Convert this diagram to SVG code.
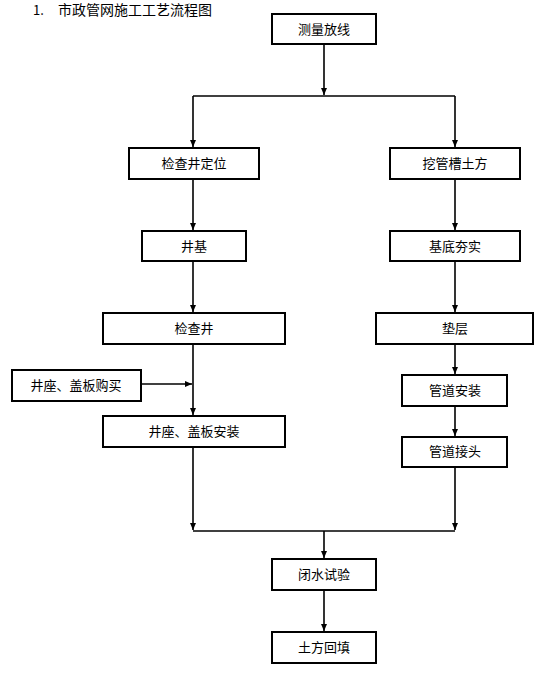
<svg xmlns="http://www.w3.org/2000/svg" width="535" height="674" viewBox="0 0 535 674">
<defs>
<marker id="ah" markerWidth="8" markerHeight="8" refX="7" refY="4" orient="auto" markerUnits="userSpaceOnUse">
<path d="M0,1 L7,4 L0,7 Z" fill="#000"/>
</marker>
<style>
.box{fill:#fff;stroke:#000;stroke-width:2}
.t{font-family:"Noto Sans CJK SC","Liberation Sans",sans-serif;font-size:13px;text-anchor:middle;fill:#000}
.ln{fill:none;stroke:#000;stroke-width:1.6}
.ar{fill:none;stroke:#000;stroke-width:1.6;marker-end:url(#ah)}
</style>
</defs>
<rect width="535" height="674" fill="#fff"/>
<text x="33" y="15" style="font-family:'Noto Sans CJK SC','Liberation Sans',sans-serif;font-size:13px">1.</text>
<text x="58" y="15" style="font-family:'Noto Sans CJK SC','Liberation Sans',sans-serif;font-size:14px">市政管网施工工艺流程图</text>
<g id="connectors">
<path class="ar" d="M324,44 V95"/>
<path class="ln" d="M193,96 H455"/>
<path class="ar" d="M193,96 V147"/>
<path class="ar" d="M455,96 V147"/>
<path class="ar" d="M193,179 V230"/>
<path class="ar" d="M455,179 V230"/>
<path class="ar" d="M193,261 V312"/>
<path class="ar" d="M455,261 V312"/>
<path class="ln" d="M193,344 V384"/>
<path class="ar" d="M193,384 V415"/>
<path class="ar" d="M141,384 H192"/>
<path class="ar" d="M455,344 V374"/>
<path class="ar" d="M455,406 V436"/>
<path class="ar" d="M193,447 V530"/>
<path class="ar" d="M455,467 V530"/>
<path class="ln" d="M193,531 H455"/>
<path class="ar" d="M324,531 V558"/>
<path class="ar" d="M324,590 V631"/>
</g>
<g id="n1"><rect class="box" x="272" y="14" width="104" height="30"/><text class="t" x="324" y="34">测量放线</text></g>
<g id="n2"><rect class="box" x="129" y="148" width="130" height="31"/><text class="t" x="194" y="168">检查井定位</text></g>
<g id="n3"><rect class="box" x="390" y="148" width="130" height="31"/><text class="t" x="455" y="168">挖管槽土方</text></g>
<g id="n4"><rect class="box" x="142" y="231" width="104" height="30"/><text class="t" x="194" y="251">井基</text></g>
<g id="n5"><rect class="box" x="390" y="231" width="130" height="30"/><text class="t" x="455" y="251">基底夯实</text></g>
<g id="n6"><rect class="box" x="103" y="313" width="182" height="31"/><text class="t" x="194" y="333">检查井</text></g>
<g id="n7"><rect class="box" x="376" y="313" width="157" height="31"/><text class="t" x="455" y="333">垫层</text></g>
<g id="n8"><rect class="box" x="12" y="370" width="129" height="31"/><text class="t" x="76" y="390">井座、盖板购买</text></g>
<g id="n9"><rect class="box" x="103" y="416" width="182" height="31"/><text class="t" x="194" y="436">井座、盖板安装</text></g>
<g id="n10"><rect class="box" x="402" y="375" width="105" height="31"/><text class="t" x="455" y="395">管道安装</text></g>
<g id="n11"><rect class="box" x="402" y="437" width="105" height="30"/><text class="t" x="455" y="456">管道接头</text></g>
<g id="n12"><rect class="box" x="272" y="559" width="104" height="31"/><text class="t" x="324" y="579">闭水试验</text></g>
<g id="n13"><rect class="box" x="272" y="632" width="104" height="31"/><text class="t" x="324" y="652">土方回填</text></g>
</svg>
